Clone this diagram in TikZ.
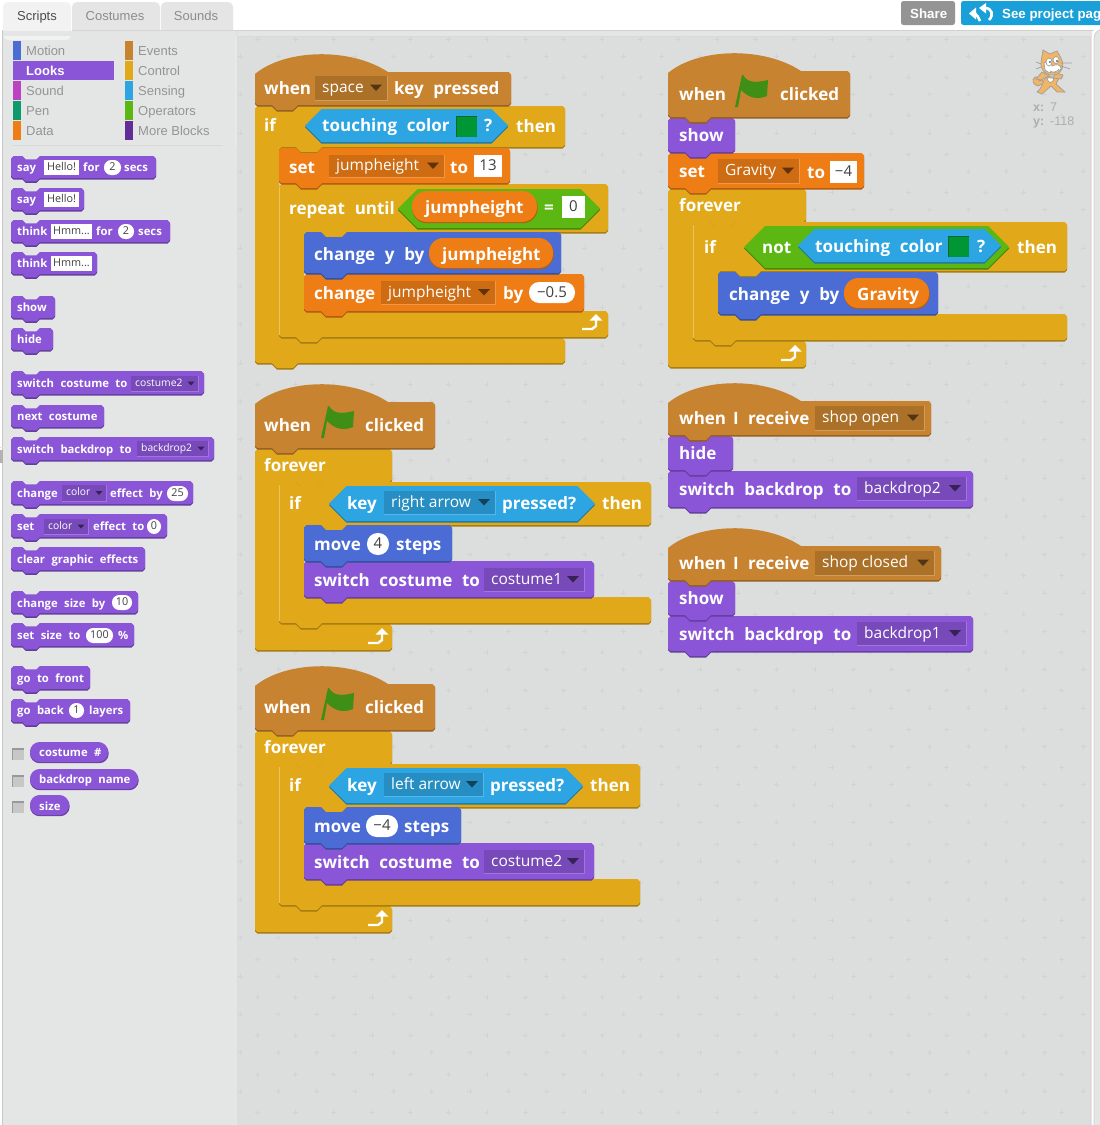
\documentclass[tikz,border=0pt]{standalone}
\usepackage{fontspec}
\newfontfamily\blk{Open Sans}
\newfontfamily\arl{Liberation Sans}
\definecolor{evc}{HTML}{C88330}
\definecolor{ctl}{HTML}{E1A91A}
\definecolor{sen}{HTML}{2CA5E2}
\definecolor{opr}{HTML}{5CB712}
\definecolor{dat}{HTML}{EE7D16}
\definecolor{mot}{HTML}{4A6CD4}
\definecolor{loo}{HTML}{8A55D7}
\definecolor{snd}{HTML}{BB42C3}
\definecolor{pen}{HTML}{0E9A6C}
\definecolor{mor}{HTML}{632D99}
\definecolor{swt}{HTML}{009636}
\definecolor{flg}{HTML}{3F8F16}
\definecolor{palbg}{HTML}{E4E6E6}
\definecolor{scrbg}{HTML}{DCDEDE}
\definecolor{plusc}{HTML}{D2D4D4}
\definecolor{btnc}{HTML}{1AA0D8}
\definecolor{catc}{HTML}{F2B565}
\tikzset{
  bigtxt/.style={anchor=base west,inner sep=0pt,text=white,font=\blk\bfseries\fontsize{17}{17}\selectfont,yshift=-6.4pt},
  smtxt/.style={anchor=base west,inner sep=0pt,text=white,font=\blk\bfseries\fontsize{11.3}{12}\selectfont,yshift=-4.7pt},
  ddbig/.style={anchor=base west,inner sep=0pt,text=white,font=\blk\fontsize{15.5}{16}\selectfont},
  ddsm/.style={anchor=base west,inner sep=0pt,text=white,font=\blk\fontsize{10.3}{11}\selectfont},
  inbig/.style={anchor=center,inner sep=0pt,text=black!75,font=\blk\fontsize{15}{16}\selectfont},
  insm/.style={anchor=center,inner sep=0pt,text=black!75,font=\blk\fontsize{10.8}{11}\selectfont},
  cattxt/.style={anchor=base west,inner sep=0pt,text=black!42,font=\arl\fontsize{13}{14}\selectfont},
  tabtxt/.style={anchor=base,inner sep=0pt,font=\arl\fontsize{13}{14}\selectfont},
  btntxt/.style={anchor=base west,inner sep=0pt,text=white,font=\arl\bfseries\fontsize{13.3}{14}\selectfont},
  looparrow/.style={draw=white,line width=2.4pt},
}
\def\q{1}
\def\notch{-- ++({\q*5},{\q*5}) -- ++({\q*16},0) -- ++({\q*5},{-\q*5})}
\def\bump{-- ++({-\q*5},{\q*5}) -- ++({-\q*16},0) -- ++({-\q*5},{-\q*5})}
% stack block
\newcommand\stackp[4]{({#1},{#2+2.5}) -- ({#1+2.5},{#2}) -- ({#1+17*\q},{#2}) \notch -- ({#3-2.5},{#2}) -- ({#3},{#2+2.5}) -- ({#3},{#4-2.5}) -- ({#3-2.5},{#4}) -- ({#1+43*\q},{#4}) \bump -- ({#1+2.5},{#4}) -- ({#1},{#4-2.5}) -- cycle}
\newcommand\stk[5]{\fill[#5!72!black,yshift=-1.5pt] \stackp{#1}{#2}{#3}{#4};\fill[#5] \stackp{#1}{#2}{#3}{#4};}
% hat block
\newcommand\hatp[4]{({#1},{#2+2}) .. controls ({#1+30},{#2-23}) and ({#1+95},{#2-25}) .. ({#1+133},{#2}) -- ({#3-2.5},{#2}) -- ({#3},{#2+2.5}) -- ({#3},{#4-2.5}) -- ({#3-2.5},{#4}) -- ({#1+43},{#4}) \bump -- ({#1+2.5},{#4}) -- ({#1},{#4-2.5}) -- cycle}
\newcommand\hatb[4]{\fill[evc!72!black,yshift=-1.5pt] \hatp{#1}{#2}{#3}{#4};\fill[evc] \hatp{#1}{#2}{#3}{#4};}
% c block: x0 y0 x1 yh xi yf x2 yb bottom
\newcommand\cp[9]{({#1},{#2+2.5}) -- ({#1+2.5},{#2}) -- ({#1+17},{#2}) \notch -- ({#3-2.5},{#2}) -- ({#3},{#2+2.5}) -- ({#3},{#4-2.5}) -- ({#3-2.5},{#4}) -- ({#5+43},{#4}) \bump -- ({#5+2.5},{#4}) -- ({#5},{#4+2.5}) -- ({#5},{#6-2.5}) -- ({#5+2.5},{#6}) -- ({#7-2.5},{#6}) -- ({#7},{#6+2.5}) -- ({#7},{#8-2.5}) -- ({#7-2.5},{#8}) -- ({#1+43},{#8}) #9 -- ({#1+2.5},{#8}) -- ({#1},{#8-2.5}) -- cycle}
\newcommand\cb[9]{\fill[ctl!72!black,yshift=-1.5pt] \cp{#1}{#2}{#3}{#4}{#5}{#6}{#7}{#8}{#9};\fill[ctl] \cp{#1}{#2}{#3}{#4}{#5}{#6}{#7}{#8}{#9};}
\newcommand\ledge[3]{\draw[ctl!78!black,line width=.7pt] (#1,{#2+3}) -- (#1,{#3-2});\draw[ctl!70!white,line width=.6pt] ({#1+.7},{#2+3}) -- ({#1+.7},{#3-2});}
% reporter oval x0 y0 x1 y1 col
\newcommand\rep[5]{\fill[#5!75!black,rounded corners={(#4-#2)*0.48pt}] ({#1},{#2+1.5}) rectangle ({#3+.7},{#4+1.2});\fill[#5,rounded corners={(#4-#2)*0.48pt}] ({#1},{#2}) rectangle ({#3},{#4});}
\newcommand\hexp[4]{({#1},{(#2+#4)/2}) -- ({#1+(#4-#2)/2},{#2}) -- ({#3-(#4-#2)/2},{#2}) -- ({#3},{(#2+#4)/2}) -- ({#3-(#4-#2)/2},{#4}) -- ({#1+(#4-#2)/2},{#4}) -- cycle}
\newcommand\hexb[5]{\fill[#5!72!black,yshift=-1.5pt] \hexp{#1}{#2}{#3}{#4};\fill[#5] \hexp{#1}{#2}{#3}{#4};}
% dropdowns
\newcommand\ddb[6]{\fill[#5!80!white] ({#1},{#2}) rectangle ({#3+.7},{#4+.7});\fill[#5!86!black] ({#1},{#2}) rectangle ({#3},{#4});\node[ddbig] at ({#1+7},{(#2+#4)/2+4.5}) {#6};\fill[#5!40!black] ({#3-17},{(#2+#4)/2-3.5}) -- ({#3-5},{(#2+#4)/2-3.5}) -- ({#3-11},{(#2+#4)/2+3}) -- cycle;}
\newcommand\dds[6]{\fill[#5!80!white] ({#1},{#2}) rectangle ({#3+.5},{#4+.5});\fill[#5!86!black] ({#1},{#2}) rectangle ({#3},{#4});\node[ddsm] at ({#1+4},{(#2+#4)/2+2.7}) {#6};\fill[#5!40!black] ({#3-10.5},{(#2+#4)/2-2}) -- ({#3-3.5},{(#2+#4)/2-2}) -- ({#3-7},{(#2+#4)/2+2}) -- cycle;}
\newcommand\bt[3]{\node[bigtxt] at (#1,#2) {\spaceskip=.57em\relax #3};}
\newcommand\st[3]{\node[smtxt] at (#1,#2) {\spaceskip=.57em\relax #3};}
\newcommand\inpb[5]{\fill[white] ({#1},{#2}) rectangle ({#3},{#4});\node[inbig] at ({(#1+#3)/2},{(#2+#4)/2-.5}) {#5};}
\newcommand\inps[5]{\fill[white] ({#1},{#2}) rectangle ({#3},{#4});\node[insm] at ({(#1+#3)/2},{(#2+#4)/2-1}) {#5};}
\newcommand\ovl[5]{\fill[white,rounded corners={(#4-#2)*0.48pt}] ({#1},{#2}) rectangle ({#3},{#4});\node[inbig] at ({(#1+#3)/2},{(#2+#4)/2-.5}) {#5};}
\newcommand\ovs[5]{\fill[white,rounded corners={(#4-#2)*0.48pt}] ({#1},{#2}) rectangle ({#3},{#4});\node[insm] at ({(#1+#3)/2},{(#2+#4)/2-.5}) {#5};}
\newcommand\swatch[2]{\fill[swt!70!black] ({#1},{#2}) rectangle ({#1+21},{#2+21});\fill[swt] ({#1+1},{#2+1}) rectangle ({#1+20.5},{#2+20.5});}
\newcommand\flag[2]{\fill[flg] ({#1},{#2+33}) -- ({#1+7},{#2+1}) -- ({#1+8},{#2+1}) .. controls ({#1+13},{#2+9}) and ({#1+20},{#2+9}) .. ({#1+33},{#2+6}) -- ({#1+32},{#2+22}) .. controls ({#1+22},{#2+26}) and ({#1+14},{#2+24}) .. ({#1+6},{#2+16}) -- ({#1+3},{#2+33}) -- cycle;}
\newcommand\larrow[2]{\draw[looparrow] ({#1-14},{#2}) -- ({#1-4},{#2}) -- ({#1},{#2-3}) -- ({#1},{#2-9});\fill[white] ({#1-6.5},{#2-8.5}) -- ({#1+6.5},{#2-8.5}) -- ({#1},{#2-15}) -- cycle;}
\newcommand\catb[4]{\fill[#3] (13,#1) rectangle (21,{#1+19});\node[cattxt] at (26,{#1+14.5}) {#4};}
\newcommand\catr[3]{\fill[#2] (125,#1) rectangle (133,{#1+19});\node[cattxt] at (138,{#1+14.5}) {#3};}
\newcommand\chk[1]{\fill[black!40] (12,#1) rectangle (24,{#1+12});\fill[black!22] (13,{#1+1.5}) rectangle (24,{#1+12});}
\begin{document}
\begin{tikzpicture}[x=1pt,y=-1pt]
\useasboundingbox (0,0) rectangle (1100,1125);
\fill[white] (0,0) rectangle (1100,1125);
% panels
\fill[palbg] (2,30) rectangle (1092,1125);
\fill[black!18] (2,30) rectangle (1094,31);
\fill[scrbg] (237,36) rectangle (1090,1125);
\fill[black!15] (1090,36) rectangle (1091,1125);
\fill[black!22] (2,31) rectangle (2.8,1125);
\fill[black!12] (0,447) rectangle (3,448);
\fill[black!30] (0,450) rectangle (2.5,463);
\fill[black!15] (237,36) rectangle (1090,36.8);
\fill[black!9] (234.5,36) rectangle (236.5,146);
\fill[palbg] (1094,1125) -- (1094,40) .. controls (1094,34) and (1096,31) .. (1100,30) -- (1100,1125) -- cycle;
\draw[black!18,line width=.8pt] (1094,1125) -- (1094,40) .. controls (1094,34) and (1096,31) .. (1100,30);
% grid of plus marks
\foreach \ix in {0,...,22} {\foreach \iy in {1,...,29} {
  \pgfmathsetmacro\ax{240+38.33*\ix}\pgfmathsetmacro\ay{18+38.33*\iy}
  \pgfmathsetmacro\bx{257+38.33*\ix}\pgfmathsetmacro\by{.75+38.33*\iy}
  \draw[plusc,line width=.9pt] ({\ax-2.5},\ay) -- ({\ax+2.5},\ay) ({\ax},{\ay-2.5}) -- ({\ax},{\ay+2.5});
  \ifnum\ix<22 \draw[plusc,line width=.9pt] ({\bx-2.5},\by) -- ({\bx+2.5},\by) ({\bx},{\by-2.5}) -- ({\bx},{\by+2.5}); \fi
}}
% tabs
\fill[black!10,rounded corners=5pt] (72,2) rectangle (160,40);
\fill[black!10,rounded corners=5pt] (161,2) rectangle (233,40);
\fill[white] (60,30) rectangle (236,30.7);
\fill[black!5,rounded corners=5pt] (3,2) rectangle (71,40);
\fill[palbg] (3,31) rectangle (236,36);
\fill[black!16] (72,30) rectangle (236,31);
\fill[scrbg!70!palbg] (236,31) rectangle (237,36);
\node[tabtxt,text=black!70] at (37,20) {Scripts};
\node[tabtxt,text=black!45] at (115,20) {Costumes};
\node[tabtxt,text=black!45] at (196,20) {Sounds};
% buttons
\fill[black!42,rounded corners=2.5pt] (901,1) rectangle (955,25);
\node[btntxt] at (910,18) {Share};
\fill[btnc,rounded corners=2.5pt] (961,1) rectangle (1110,25);
\node[btntxt] at (1002,18) {See project pag};
\fill[white] (969,13.5) -- (976,7.5) -- (976,19.5) -- cycle;
\draw[white,line width=2.6pt] (975,13.5) .. controls (977,15) and (979,18) .. (980,21);
\fill[white] (979,8) -- (986,3) -- (986,13.5) -- cycle;
\draw[white,line width=2.6pt] (985,8) .. controls (992,8) and (994,15) .. (989,20);
% categories
\fill[loo] (13,61) rectangle (114,80);
\node[anchor=base west,inner sep=0pt,text=white,font=\arl\bfseries\fontsize{13}{14}\selectfont] at (26,75.5) {Looks};
\catb{41}{}{mot}{Motion}
\catb{81}{}{snd}{Sound}
\catb{101}{}{pen}{Pen}
\catb{121}{}{dat}{Data}
\catr{41}{evc}{Events}
\catr{61}{ctl}{Control}
\catr{81}{sen}{Sensing}
\catr{101}{opr}{Operators}
\catr{121}{mor}{More Blocks}
\fill[black!15] (12,144.5) rectangle (223,145.7);
% palette blocks
\def\q{.67}
\stk{11}{156}{156}{178}{loo}
\st{17}{167}{say}\inps{44}{160}{79}{175}{Hello!}\st{83}{167}{for}\ovs{104}{160}{121}{175}{2}\st{124}{167}{secs}
\stk{11}{188}{84}{210}{loo}
\st{17}{199}{say}\inps{44}{192}{79}{207}{Hello!}
\stk{11}{220}{170}{242}{loo}
\st{17}{231}{think}\inps{51}{224}{92}{239}{Hmm...}\st{96}{231}{for}\ovs{118}{224}{134}{239}{2}\st{138}{231}{secs}
\stk{11}{252}{97}{274}{loo}
\st{17}{263}{think}\inps{51}{256}{92}{271}{Hmm...}
\stk{11}{296}{55}{318}{loo}
\st{17}{307}{show}
\stk{11}{328}{53}{350}{loo}
\st{17}{339}{hide}
\stk{11}{371}{204}{394}{loo}
\st{17}{383}{switch costume to}\dds{131}{376}{198}{391}{loo}{costume2}
\stk{11}{405}{104}{427}{loo}
\st{17}{416}{next costume}
\stk{11}{437}{214}{460}{loo}
\st{17}{449}{switch backdrop to}\dds{137}{441}{208}{456}{loo}{backdrop2}
\stk{11}{481}{193}{504}{loo}
\st{17}{493}{change}\dds{62}{485}{106}{501}{loo}{color}\st{110}{493}{effect by}\ovs{167}{486}{188}{501}{25}
\stk{11}{514}{167}{537}{loo}
\st{17}{526}{set}\dds{44}{519}{88}{534}{loo}{color}\st{93}{526}{effect to}\ovs{147}{519}{161}{534}{0}
\stk{11}{547}{145}{570}{loo}
\st{17}{559}{clear graphic effects}
\stk{11}{591}{138}{613}{loo}
\st{17}{603}{change size by}\ovs{112}{595}{132}{610}{10}
\stk{11}{623}{134}{646}{loo}
\st{17}{635}{set size to}\ovs{86}{628}{113}{643}{100}\st{118}{635}{\%}
\stk{11}{666}{90}{689}{loo}
\st{17}{678}{go to front}
\stk{11}{699}{130}{722}{loo}
\st{17}{710}{go back}\ovs{69}{703}{84}{718}{1}\st{89}{710}{layers}
\rep{30}{742}{108}{762}{loo}{}\st{39}{752}{costume \#}
\rep{30}{769}{138}{789}{loo}{}\st{39}{779}{backdrop name}
\rep{30}{795}{69}{815}{loo}{}\st{39}{806}{size}
\chk{748}\chk{775}\chk{801}
\def\q{1}
% ---- script 1
\cb{255}{106}{565}{147}{279}{338}{565}{363}{\bump}
\cb{279}{184}{608}{232}{304}{311}{608}{337}{\bump}
\ledge{279}{184}{337}
\stk{304}{274}{584}{311}{dat}
\stk{304}{232}{561}{273}{mot}
\stk{279}{148}{510}{183}{dat}
\hatb{255}{72}{511}{105}
\bt{264}{88}{when}\ddb{315}{76}{387}{100}{evc}{space}\bt{394}{88}{key pressed}
\bt{264}{125}{if}
\hexb{305}{109}{508}{142}{sen}
\bt{322}{125}{touching color}\swatch{456}{116}\bt{484}{125}{?}\bt{516}{126}{then}
\bt{289}{167}{set}\ddb{329}{155}{444}{177}{dat}{jumpheight}\bt{450}{167}{to}\inpb{474}{155}{502}{177}{13}
\bt{289}{208}{repeat until}
\hexb{398}{189}{600}{228}{opr}
\rep{412}{191}{537}{222}{dat}{}
\bt{425}{207}{jumpheight}\bt{544}{207}{=}\inpb{562}{196}{585}{218}{0}
\bt{314}{254}{change y by}
\rep{429}{238}{553}{268}{dat}{}
\bt{442}{254}{jumpheight}
\bt{314}{293}{change}\ddb{381}{281}{495}{304}{dat}{jumpheight}\bt{503}{293}{by}\ovl{529}{282}{575}{303}{−0.5}
\larrow{596}{329}
% ---- script 2
\cb{255}{449}{392}{482}{279}{624}{392}{650}{}
\cb{279}{482}{651}{525}{304}{597}{651}{623}{\bump}
\ledge{279}{482}{623}
\stk{304}{561}{594}{597}{loo}
\stk{304}{525}{452}{561}{mot}
\hatb{255}{402}{435}{448}
\bt{264}{425}{when}\flag{321}{405}\bt{365}{425}{clicked}
\bt{264}{465}{forever}
\bt{289}{503}{if}
\hexb{329}{486}{595}{521}{sen}
\bt{347}{503}{key}\ddb{384}{491}{495}{514}{sen}{right arrow}\bt{502}{503}{pressed?}\bt{602}{503}{then}
\bt{314}{544}{move}\ovl{367}{533}{389}{555}{4}\bt{396}{544}{steps}
\bt{314}{580}{switch costume to}\ddb{484}{568}{584}{591}{loo}{costume1}
\larrow{382}{643}
% ---- script 3
\cb{255}{731}{392}{764}{279}{906}{392}{932}{}
\cb{279}{764}{640}{807}{304}{879}{640}{905}{\bump}
\ledge{279}{764}{905}
\stk{304}{843}{594}{879}{loo}
\stk{304}{807}{461}{843}{mot}
\hatb{255}{684}{435}{730}
\bt{264}{707}{when}\flag{321}{687}\bt{365}{707}{clicked}
\bt{264}{747}{forever}
\bt{289}{785}{if}
\hexb{329}{768}{583}{803}{sen}
\bt{347}{785}{key}\ddb{384}{773}{483}{796}{sen}{left arrow}\bt{490}{785}{pressed?}\bt{590}{785}{then}
\bt{314}{826}{move}\ovl{366}{815}{398}{837}{−4}\bt{404}{826}{steps}
\bt{314}{862}{switch costume to}\ddb{484}{850}{584}{873}{loo}{costume2}
\larrow{382}{925}
% ---- right script 1
\cb{668}{189}{806}{222}{693}{341}{806}{367}{}
\cb{693}{222}{1067}{271}{718}{314}{1067}{340}{\bump}
\ledge{693}{222}{340}
\stk{718}{272}{938}{314}{mot}
\stk{668}{153}{864}{188}{dat}
\stk{668}{118}{735}{152}{loo}
\hatb{668}{71}{850}{117}
\bt{679}{94}{when}\flag{735}{74}\bt{780}{94}{clicked}
\bt{679}{135}{show}
\bt{679}{171}{set}\ddb{718}{159}{799}{183}{dat}{Gravity}\bt{807}{172}{to}\inpb{830}{161}{857}{183}{−4}
\bt{679}{205}{forever}
\bt{704}{247}{if}
\hexb{744}{226}{1009}{268}{opr}
\bt{762}{247}{not}
\hexb{798}{229}{1001}{262}{sen}
\bt{815}{246}{touching color}\swatch{948}{236}\bt{977}{246}{?}\bt{1017}{247}{then}
\bt{729}{294}{change y by}
\rep{844}{278}{929}{308}{dat}{}
\bt{857}{294}{Gravity}
\larrow{795}{360}
% ---- right script 2
\stk{668}{471}{973}{507}{loo}
\stk{668}{436}{733}{470}{loo}
\hatb{668}{401}{931}{435}
\bt{679}{418}{when}\bt{733}{418}{I}\bt{748}{418}{receive}\ddb{815}{406}{924}{430}{evc}{shop open}
\bt{679}{453}{hide}
\bt{679}{489}{switch backdrop to}\ddb{857}{477}{966}{500}{loo}{backdrop2}
% ---- right script 3
\stk{668}{616}{973}{651}{loo}
\stk{668}{581}{735}{615}{loo}
\hatb{668}{546}{941}{580}
\bt{679}{563}{when}\bt{733}{563}{I}\bt{748}{563}{receive}\ddb{815}{551}{934}{575}{evc}{shop closed}
\bt{679}{598}{show}
\bt{679}{634}{switch backdrop to}\ddb{857}{622}{966}{645}{loo}{backdrop1}
% ---- sprite
\begin{scope}[draw=black!38,line width=.7pt]
\filldraw[fill=catc] (1035,77) .. controls (1031,80) and (1033,85) .. (1038,86) -- (1044,83) -- (1042,80) -- (1039,81) -- (1038,77) -- cycle;
\filldraw[fill=catc] (1046,76) .. controls (1042,84) and (1042,88) .. (1037,92) -- (1042,94) -- (1051,86) -- (1057,92) -- (1065,92) -- (1056,84) -- (1059,78) -- cycle;
\filldraw[fill=white] (1047,78) .. controls (1048,84) and (1053,84) .. (1054,78) -- cycle;
\filldraw[fill=catc] (1042,72) -- (1036,79) -- (1041,80) -- (1049,76) -- cycle;
\filldraw[fill=catc] (1056,73) -- (1063,75) -- (1061,79) -- (1053,78) -- cycle;
\filldraw[fill=catc] (1043,50) -- (1050,54) -- (1057,51) -- (1061,58) .. controls (1065,66) and (1062,74) .. (1054,75) .. controls (1046,76) and (1040,70) .. (1041,62) -- cycle;
\filldraw[fill=white] (1044,63) .. controls (1048,60) and (1052,62) .. (1052,66) .. controls (1055,64) and (1062,64) .. (1061,69) .. controls (1058,74) and (1048,74) .. (1045,70) -- cycle;
\filldraw[fill=white] (1049,62) ellipse (3 and 4);\filldraw[fill=white] (1056,60) ellipse (3 and 3.5);
\fill[black!60] (1050,62) circle (1.1);\fill[black!60] (1057,61) circle (1.1);
\draw (1050,71) .. controls (1053,73) and (1057,72) .. (1059,69);
\draw (1041,64) -- (1036,62) (1041,67) -- (1036,69) (1061,63) -- (1072,63) (1061,66) -- (1070,69);
\end{scope}
\node[anchor=base west,inner sep=0pt,text=black!32,font=\arl\bfseries\fontsize{12.5}{13}\selectfont] at (1033,111) {x:};
\node[anchor=base west,inner sep=0pt,text=black!32,font=\arl\fontsize{12.5}{13}\selectfont] at (1050,111) {7};
\node[anchor=base west,inner sep=0pt,text=black!32,font=\arl\bfseries\fontsize{12.5}{13}\selectfont] at (1033,125) {y:};
\node[anchor=base west,inner sep=0pt,text=black!32,font=\arl\fontsize{12.5}{13}\selectfont] at (1050,125) {-118};
\end{tikzpicture}
\end{document}
